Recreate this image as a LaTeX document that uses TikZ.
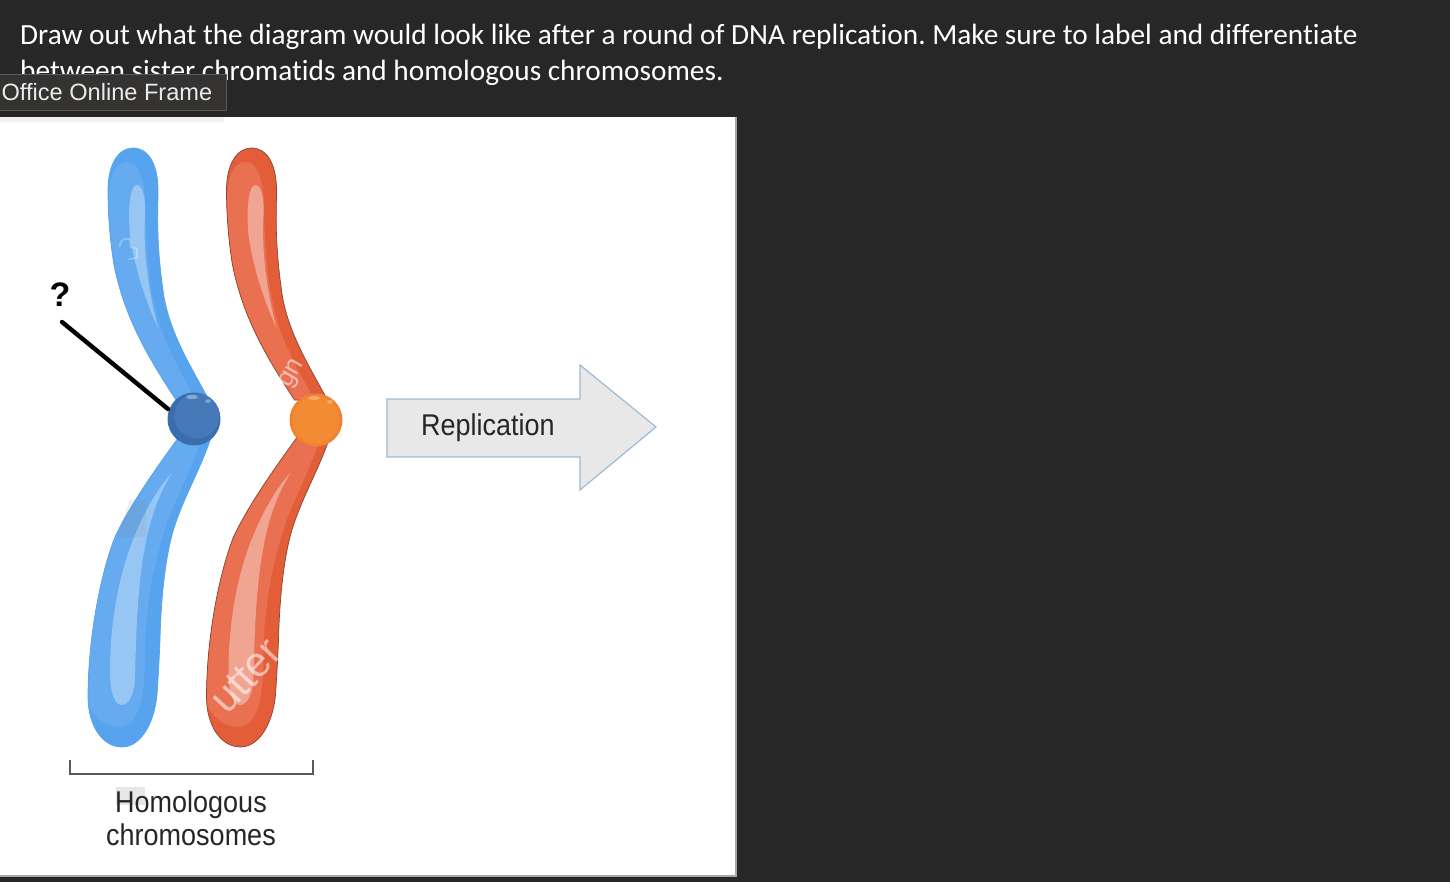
\documentclass[tikz,border=0pt]{standalone}
\usepackage{fontspec}
\setmainfont[Ligatures=NoCommon]{Carlito}
\newfontfamily\arialf{Liberation Sans}
\definecolor{bgdark}{HTML}{272727}
\definecolor{framebox}{HTML}{343332}
\definecolor{frameedge}{HTML}{5A5A58}
\definecolor{blueD}{HTML}{57A3EE}
\definecolor{blueM}{HTML}{66AAF0}
\definecolor{blueH}{HTML}{97C6F5}
\definecolor{redD}{HTML}{E35D38}
\definecolor{redM}{HTML}{E97050}
\definecolor{redH}{HTML}{F0A592}
\definecolor{redE}{HTML}{8A4632}
\definecolor{arrowfill}{HTML}{E8E8E8}
\definecolor{arrowedge}{HTML}{9DBBD8}
\definecolor{cbA}{HTML}{3A6DAB}
\definecolor{cbB}{HTML}{4679B8}
\definecolor{cbC}{HTML}{7EA8D6}
\definecolor{coA}{HTML}{EF8331}
\definecolor{coB}{HTML}{F28B33}
\definecolor{coC}{HTML}{F6A863}
\tikzset{
  x=1pt,y=-1pt,
  heading/.style={text=white,anchor=north west,align=left,inner sep=0pt,font=\frenchspacing\fontsize{29.3}{36}\selectfont},
  framelabel/.style={fill=framebox,draw=frameedge,line width=.8pt,text=white!92!black,minimum width=228pt,minimum height=36pt,inner sep=0pt,font=\arialf\fontsize{23.6}{26}\selectfont},
  figlabel/.style={text=black!85,inner sep=0pt,align=center,font=\arialf\fontsize{30}{33}\selectfont},
  mark label/.style={text=black,inner sep=0pt,font=\arialf\bfseries\fontsize{34}{36}\selectfont},
  wm/.style={text=white,opacity=.55,inner sep=0pt,font=\arialf},
  centro/.style={circle,minimum size=53pt,inner sep=0pt},
}
\newcommand{\toparm}{(133,148) .. controls (149,148) and (158,165) .. (158,190) .. controls (158,215) and (156,240) .. (163,290) .. controls (168,330) and (190,365) .. (209,400) -- (176,400) .. controls (150,360) and (125,320) .. (114,265) .. controls (110,240) and (108,215) .. (108,190) .. controls (108,165) and (118,148) .. (133,148) -- cycle}
\newcommand{\botarm}{(178,438) -- (211,438) .. controls (200,470) and (185,495) .. (175,525) .. controls (165,555) and (161,600) .. (160,640) .. controls (159,665) and (158,680) .. (157,695) .. controls (154,725) and (140,747) .. (122,747) .. controls (102,747) and (88,725) .. (88,697) .. controls (88,640) and (100,575) .. (115,537) .. controls (130,505) and (155,470) .. (178,438) -- cycle}
\newcommand{\chromarms}[4]{%
  \begin{scope}
    \path[clip] \toparm;
    \fill[#1] (100,140) rectangle (215,405);
    \fill[#2] (108,200) .. controls (110,170) and (118,162) .. (127,162) .. controls (137,162) and (143,175) .. (145,195) .. controls (146,240) and (148,280) .. (157,315) .. controls (165,345) and (182,375) .. (196,400) -- (100,400) -- cycle;
    \fill[#3] (137,185) .. controls (143,185) and (146,200) .. (145,215) .. controls (143,250) and (148,290) .. (158,328) .. controls (145,300) and (134,265) .. (130,235) .. controls (128,215) and (129,185) .. (137,185) -- cycle;
  \end{scope}
  \draw[#4,line width=.7pt] \toparm;
  \begin{scope}
    \path[clip] \botarm;
    \fill[#1] (80,430) rectangle (215,750);
    \fill[#2] (203,435) .. controls (190,475) and (172,505) .. (165,530) .. controls (152,570) and (146,610) .. (145,650) .. controls (145,690) and (142,725) .. (120,727) .. controls (105,727) and (95,718) .. (85,700) -- (80,430) -- cycle;
    \fill[#3] (172,473) .. controls (155,500) and (147,530) .. (142,565) .. controls (136,610) and (136,650) .. (135,675) .. controls (135,695) and (128,705) .. (122,705) .. controls (115,705) and (110,695) .. (110,670) .. controls (110,620) and (120,570) .. (135,535) .. controls (145,510) and (160,485) .. (172,473) -- cycle;
  \end{scope}
  \draw[#4,line width=.7pt] \botarm;
}
\begin{document}
\begin{tikzpicture}
\useasboundingbox (0,0) rectangle (1450,882);
\fill[bgdark] (0,0) rectangle (1450,882);
\fill[white] (0,117) rectangle (736,876);
\draw[black!35,line width=1.5pt] (736,117) -- (736,876) -- (0,876);
\node[heading] (head) at (20,24) {Draw out what the diagram would look like after a round of DNA replication. Make sure to label and differentiate\\between sister chromatids and homologous chromosomes.};
\fill[black,opacity=.05] (0,117) rectangle (224,122);
\node[framelabel,anchor=north west] (frame) at (-2,74) {\hspace*{-11pt}Office Online Frame};
\chromarms{blueD}{blueM}{blueH}{blueD}
\begin{scope}[xshift=118.5pt]
  \chromarms{redD}{redM}{redH}{redE}
\end{scope}
\draw[white,opacity=.3,line width=1.8pt,line cap=round,line join=round] (120,246) .. controls (120,240) and (124,238) .. (130,239) -- (131,247) -- (137,249) -- (137,258) -- (129,259);
\fill[black!45,opacity=.14] (130,500) -- (146,500) -- (146,537) -- (116,537) -- cycle;
\node[wm,rotate=60,font=\arialf\fontsize{26}{28}\selectfont] (wmA) at (293,374) {gn};
\node[wm,rotate=47,font=\arialf\fontsize{42}{44}\selectfont] (wmB) at (246,676) {utter};
\node[centro,fill=cbA] (cb) at (194,419) {};
\fill[cbB] (197,416) circle (22.5);
\fill[cbC] (192,397) ellipse (6 and 2.2);
\fill[cbC] (208,401) ellipse (3 and 1.8);
\node[centro,fill=coA] (co) at (316,420) {};
\fill[coB] (316,420) circle (23.5);
\fill[coC] (314,398) ellipse (6 and 2);
\fill[coC] (330,402) ellipse (3 and 1.8);
\node[mark label] (qm) at (60,295) {?};
\coordinate (ptr) at (62,322);
\coordinate (ptrend) at (168,409);
\draw[black,line width=4.4pt,line cap=round] (ptr) -- (ptrend);
\coordinate (bl) at (70,760);
\coordinate (br) at (313,760);
\draw[black!65,line width=1.4pt] (bl) -- (70,774) -- (313,774) -- (br);
\fill[black!30,opacity=.3] (116,787) rectangle (145,805);
\node[figlabel,xscale=.9] (hom) at (191,818) {Homologous\\chromosomes};
\draw[arrowedge,fill=arrowfill,line width=1.2pt] (387,399) -- (580,399) -- (580,365) -- (656,427) -- (580,490) -- (580,457) -- (387,457) -- cycle;
\node[figlabel,xscale=.9] (rep) at (488,428) {Replication};
\end{tikzpicture}
\end{document}
